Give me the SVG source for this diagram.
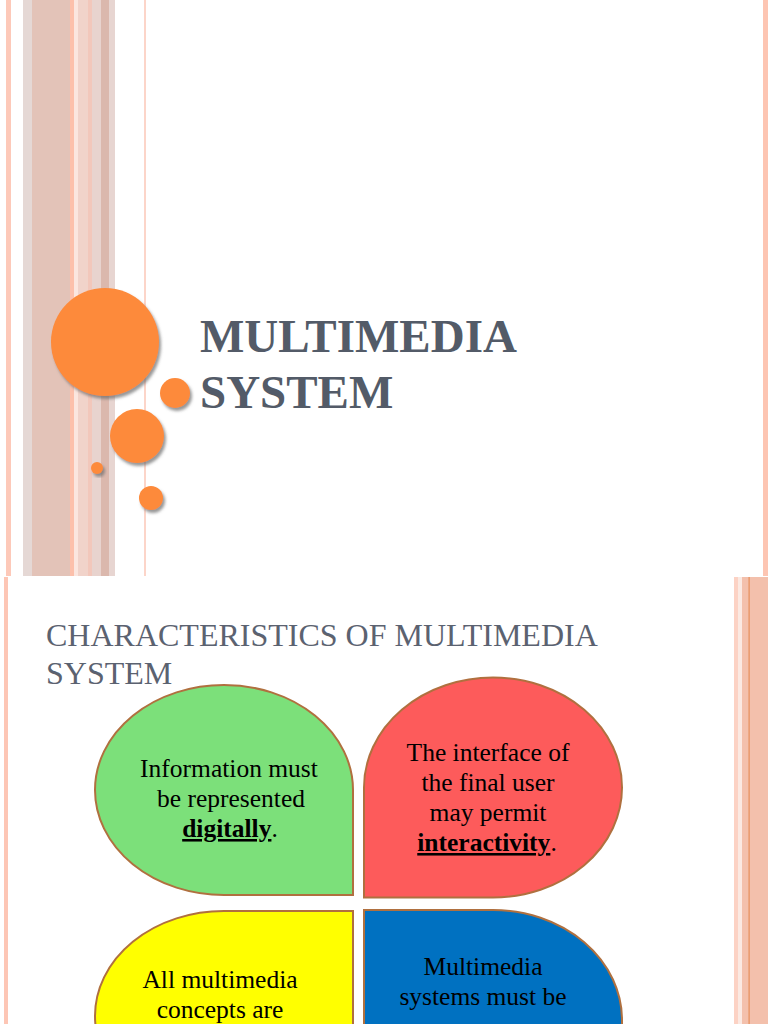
<svg xmlns="http://www.w3.org/2000/svg" width="768" height="1024" viewBox="0 0 768 1024">
<defs>
<style>
.t1{font-family:"Liberation Serif","Times New Roman",serif;font-weight:bold;font-size:47px;fill:#535b68}
.t2{font-family:"Liberation Serif","Times New Roman",serif;font-size:32px;fill:#5b6270}
.lbl{font-family:"Liberation Serif","Times New Roman",serif;font-size:25.5px;fill:#000;text-anchor:middle}
.em{font-weight:bold;text-decoration:underline}
.leaf{stroke:#b0703f;stroke-width:2}
.dot{fill:#fd8a3a;filter:url(#sh)}
</style>
<filter id="sh" x="-20%" y="-20%" width="150%" height="150%">
<feGaussianBlur in="SourceAlpha" stdDeviation="1.5"/>
<feOffset dx="2" dy="3" result="b"/>
<feFlood flood-color="#6b6b6b" flood-opacity="0.7"/>
<feComposite in2="b" operator="in"/>
<feMerge><feMergeNode/><feMergeNode in="SourceGraphic"/></feMerge>
</filter>
</defs>
<rect width="768" height="1024" fill="#ffffff"/>
<g id="slide1-stripes">
<rect x="6" y="0" width="5" height="576" fill="#fdc9b9"/>
<rect x="23" y="0" width="9" height="576" fill="#e5d8d5"/>
<rect x="32" y="0" width="38" height="576" fill="#e3c3b8"/>
<rect x="70" y="0" width="4" height="576" fill="#fcc0ab"/>
<rect x="74" y="0" width="4" height="576" fill="#fbe6df"/>
<rect x="78" y="0" width="10" height="576" fill="#f1d3ca"/>
<rect x="88" y="0" width="4" height="576" fill="#f2c7bb"/>
<rect x="92" y="0" width="9" height="576" fill="#e8d3ce"/>
<rect x="101" y="0" width="8" height="576" fill="#dbb8ad"/>
<rect x="109" y="0" width="6" height="576" fill="#e7d5d1"/>
<rect x="144" y="0" width="2" height="576" fill="#fcd5c9"/>
<rect x="763" y="0" width="5" height="576" fill="#fdc5b2"/>
</g>
<g id="circles">
<circle class="dot" cx="105" cy="342" r="54"/>
<circle class="dot" cx="175" cy="393" r="15"/>
<circle class="dot" cx="137" cy="436" r="27"/>
<circle class="dot" cx="97" cy="468" r="6"/>
<circle class="dot" cx="151" cy="498" r="12"/>
</g>
<g id="title1">
<text class="t1" x="200" y="352">MULTIMEDIA</text>
<text class="t1" x="200" y="408">SYSTEM</text>
</g>
<g id="slide2-stripes">
<rect x="4" y="577" width="4" height="447" fill="#fdc6b5"/>
<rect x="734" y="577" width="4" height="447" fill="#fcd2c4"/>
<rect x="738" y="577" width="4" height="447" fill="#fbe9e2"/>
<rect x="742" y="577" width="26" height="447" fill="#f3c0ac"/>
<rect x="748.5" y="577" width="1.2" height="447" fill="#e58f5c"/>
</g>
<g id="title2">
<text class="t2" x="46" y="646">CHARACTERISTICS OF MULTIMEDIA</text>
<text class="t2" x="46" y="684">SYSTEM</text>
</g>
<g id="connectors"></g>
<g id="node-green">
<path class="leaf" fill="#7ce07a" d="M224,685 A129,105 0 0 1 353,790 L353,895 L224,895 A129,105 0 0 1 95,790 A129,105 0 0 1 224,685 Z"/>
<text class="lbl" x="229" y="777">Information must</text>
<text class="lbl" x="231" y="807">be represented</text>
<text class="lbl" x="230" y="837"><tspan class="em">digitally</tspan>.</text>
</g>
<g id="node-red">
<path class="leaf" fill="#fd5b5b" d="M493,677.5 A129,110 0 0 1 622,787.5 A129,110 0 0 1 493,897.5 L364,897.5 L364,787.5 A129,110 0 0 1 493,677.5 Z"/>
<text class="lbl" x="488" y="761">The interface of</text>
<text class="lbl" x="488" y="791">the final user</text>
<text class="lbl" x="488" y="821">may permit</text>
<text class="lbl" x="487" y="851"><tspan class="em">interactivity</tspan>.</text>
</g>
<g id="node-yellow">
<path class="leaf" fill="#ffff00" d="M224,911 L353,911 L353,1121 L224,1121 A129,105 0 0 1 95,1016 A129,105 0 0 1 224,911 Z"/>
<text class="lbl" x="220" y="988">All multimedia</text>
<text class="lbl" x="220" y="1018">concepts are</text>
</g>
<g id="node-blue">
<path class="leaf" fill="#0071c1" d="M364,910 L493,910 A129,110 0 0 1 622,1020 L622,1130 L364,1130 Z"/>
<text class="lbl" x="483" y="975">Multimedia</text>
<text class="lbl" x="483" y="1005">systems must be</text>
</g>
</svg>
